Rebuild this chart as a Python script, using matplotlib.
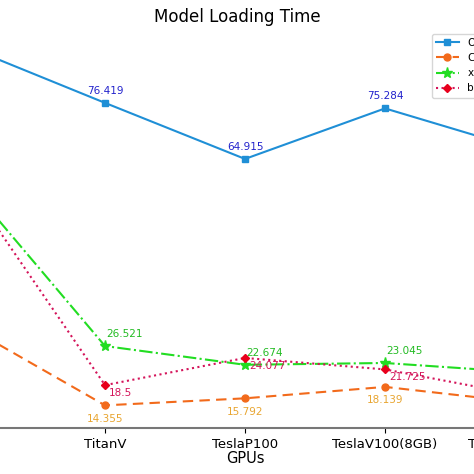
import numpy as np
import matplotlib
matplotlib.use("Agg")
from matplotlib import pyplot as plt

gpus = ["RTX2080Ti", "TitanV", "TeslaP100", "TeslaV100(8GB)", "TeslaV100(16GB)"]
original = [88.1, 76.419, 64.915, 75.284, 66.7]
ctrl = [30.8, 14.355, 15.792, 18.139, 14.9]
xlnet = [60.5, 26.521, 22.674, 23.045, 21.1]
bart = [60.4, 18.5, 24.077, 21.725, 16.3]

fig = plt.figure(figsize=(4.74, 4.74), dpi=100)
# axes deliberately wider than the canvas (cropped view)
ax = fig.add_axes([-105 / 474, 0.097, 700 / 474, 0.84])
x = np.arange(len(gpus))

ax.plot(x, original, '-s', color='#1f8fd6', ms=5, lw=1.5, label='Original')
ax.plot(x, ctrl, 'o', ls=(0, (5, 3)), color='#f26a1b', ms=5, lw=1.5, label='CTRL')
ax.plot(x, xlnet, '-.*', color='#22dd22', ms=8, lw=1.5, label='xlnet')
ax.plot(x, bart, ':D', color='#d4145a', ms=4, lw=1.5, mfc='#e8001c', mec='#e8001c', label='bart')

for i in range(len(gpus)):
    ax.annotate(f"{original[i]:g}", (x[i], original[i]), xytext=(0, 5), textcoords='offset points',
                ha='center', va='bottom', fontsize=7.5, color='#2222cc')
    ax.annotate(f"{ctrl[i]:g}", (x[i], ctrl[i]), xytext=(0, -6), textcoords='offset points',
                ha='center', va='top', fontsize=7.5, color='#e8a530')
    ax.annotate(f"{xlnet[i]:g}", (x[i], xlnet[i]), xytext=(1, 5), textcoords='offset points',
                ha='left', va='bottom', fontsize=7.5, color='#22bb22')
    ax.annotate(f"{bart[i]:g}", (x[i], bart[i]), xytext=(3, -2), textcoords='offset points',
                ha='left', va='top', fontsize=7.5, color='#d4145a')

ax.set_xlim(-0.5, 4.5)
ax.set_ylim(9.7, 91.4)
ax.set_xticks(x)
ax.set_xticklabels(gpus, fontsize=9.5)
ax.set_yticks([])
ax.set_xlabel("GPUs", fontsize=10.5, labelpad=0)
for s in ['top', 'left', 'right']:
    ax.spines[s].set_visible(False)
ax.spines['bottom'].set_color('#777777')
ax.spines['bottom'].set_linewidth(1.5)

fig.text(0.5, 0.965, "Model Loading Time", ha='center', va='center', fontsize=12)
ax.legend(loc='upper left', bbox_to_anchor=(0.9, 0.94), bbox_transform=fig.transFigure,
          fontsize=7.5, handlelength=2.2)

fig.savefig("out.png", dpi=100)
